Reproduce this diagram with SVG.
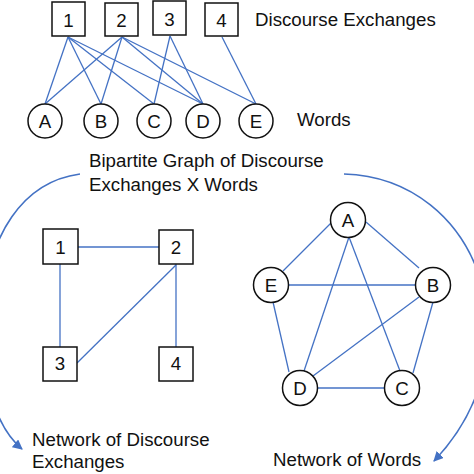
<svg xmlns="http://www.w3.org/2000/svg" width="474" height="474" viewBox="0 0 474 474">
<defs>
<style>
text{font-family:"Liberation Sans",Arial,sans-serif;font-size:18.7px;fill:#111}
.lbl{text-anchor:middle}
.box{fill:#fff;stroke:#111;stroke-width:1.5}
.node{fill:#fff;stroke:#111;stroke-width:1.5}
.edge{stroke:#4472C4;stroke-width:1.3;fill:none}
.arc{stroke:#4472C4;stroke-width:1.6;fill:none}
</style>
<marker id="ah" viewBox="0 0 10 10" refX="9" refY="5" markerWidth="10" markerHeight="10" markerUnits="userSpaceOnUse" orient="auto">
<path d="M0,0 L10,5 L0,10 Z" fill="#4472C4"/>
</marker>
</defs>
<rect width="474" height="474" fill="#fff"/>
<g id="connectors">
<line class="edge" x1="68" y1="37" x2="45" y2="104"/>
<line class="edge" x1="68" y1="37" x2="101" y2="104"/>
<line class="edge" x1="68" y1="37" x2="154" y2="104"/>
<line class="edge" x1="68" y1="37" x2="203" y2="104"/>
<line class="edge" x1="122" y1="37" x2="45" y2="104"/>
<line class="edge" x1="122" y1="37" x2="101" y2="104"/>
<line class="edge" x1="122" y1="37" x2="203" y2="104"/>
<line class="edge" x1="122" y1="37" x2="256" y2="104"/>
<line class="edge" x1="170" y1="36" x2="154" y2="104"/>
<line class="edge" x1="170" y1="36" x2="203" y2="104"/>
<line class="edge" x1="222" y1="37" x2="256" y2="104"/>
<line class="edge" x1="78" y1="247" x2="159" y2="247"/>
<line class="edge" x1="60" y1="264" x2="60" y2="347"/>
<line class="edge" x1="176" y1="264" x2="176" y2="347"/>
<line class="edge" x1="176" y1="265" x2="77" y2="363"/>
<line class="edge" x1="332" y1="222" x2="283" y2="271"/>
<line class="edge" x1="366" y1="222" x2="419" y2="268"/>
<line class="edge" x1="349" y1="237" x2="304" y2="371"/>
<line class="edge" x1="349" y1="237" x2="400" y2="371"/>
<line class="edge" x1="288" y1="285" x2="416" y2="285"/>
<line class="edge" x1="273" y1="302" x2="289" y2="372"/>
<line class="edge" x1="419" y1="297" x2="313" y2="376"/>
<line class="edge" x1="433" y1="302" x2="413" y2="373"/>
<line class="edge" x1="318" y1="388" x2="385" y2="388"/>
<path class="arc" d="M80,174 C-40,190 -38,400 22,449" marker-end="url(#ah)"/>
<path class="arc" d="M344,174 C480,178 540,350 434,461" marker-end="url(#ah)"/>
</g>
<g id="ex1"><rect class="box" x="52" y="2" width="33" height="34"/><text class="lbl" x="68.5" y="27">1</text></g>
<g id="ex2"><rect class="box" x="105" y="3" width="33" height="33"/><text class="lbl" x="121.5" y="27">2</text></g>
<g id="ex3"><rect class="box" x="153" y="1" width="33" height="34"/><text class="lbl" x="169.5" y="26">3</text></g>
<g id="ex4"><rect class="box" x="205" y="3" width="33" height="33"/><text class="lbl" x="221.5" y="27">4</text></g>
<g id="wA"><circle class="node" cx="45" cy="121" r="17"/><text class="lbl" x="45" y="127.5">A</text></g>
<g id="wB"><circle class="node" cx="101" cy="121" r="17"/><text class="lbl" x="101" y="127.5">B</text></g>
<g id="wC"><circle class="node" cx="154" cy="121" r="17"/><text class="lbl" x="154" y="127.5">C</text></g>
<g id="wD"><circle class="node" cx="203" cy="121" r="17"/><text class="lbl" x="203" y="127.5">D</text></g>
<g id="wE"><circle class="node" cx="256" cy="121" r="17"/><text class="lbl" x="256" y="127.5">E</text></g>
<g id="labels">
<text x="255" y="26">Discourse Exchanges</text>
<text x="297" y="126">Words</text>
<text x="89" y="167">Bipartite Graph of Discourse</text>
<text x="89" y="191">Exchanges X Words</text>
<text x="32" y="446">Network of Discourse</text>
<text x="32" y="468">Exchanges</text>
<text x="273" y="466">Network of Words</text>
</g>
<g id="n1"><rect class="box" x="43" y="229" width="35" height="35"/><text class="lbl" x="60.5" y="254">1</text></g>
<g id="n2"><rect class="box" x="159" y="230" width="34" height="34"/><text class="lbl" x="176" y="254">2</text></g>
<g id="n3"><rect class="box" x="43" y="347" width="34" height="34"/><text class="lbl" x="60" y="370">3</text></g>
<g id="n4"><rect class="box" x="159" y="347" width="34" height="34"/><text class="lbl" x="176" y="370">4</text></g>
<g id="mA"><circle class="node" cx="348" cy="220" r="17.5"/><text class="lbl" x="348" y="226.5">A</text></g>
<g id="mE"><circle class="node" cx="271" cy="285" r="17.5"/><text class="lbl" x="271" y="291.5">E</text></g>
<g id="mB"><circle class="node" cx="433" cy="285" r="17.5"/><text class="lbl" x="433" y="291.5">B</text></g>
<g id="mD"><circle class="node" cx="300" cy="388" r="17.5"/><text class="lbl" x="300" y="394.5">D</text></g>
<g id="mC"><circle class="node" cx="402" cy="388" r="17.5"/><text class="lbl" x="402" y="394.5">C</text></g>
</svg>
